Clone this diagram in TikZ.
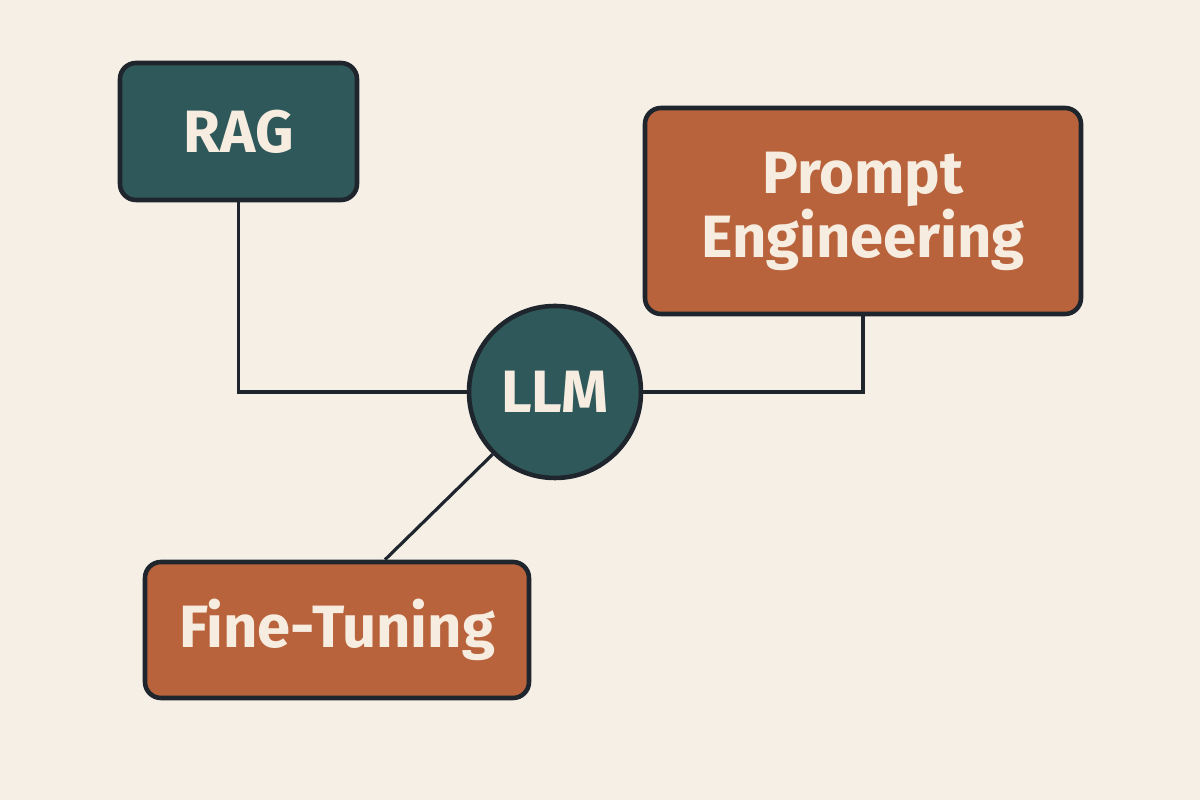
\documentclass[tikz,border=0pt]{standalone}
\usepackage{fontspec}
\setmainfont{Fira Sans}
\usetikzlibrary{positioning}
\definecolor{PaperBg}{HTML}{F5EFE6}
\definecolor{DeepTeal}{HTML}{2F585A}
\definecolor{BurntOrange}{HTML}{B9633C}
\definecolor{InkLine}{HTML}{1E252C}
\definecolor{CreamText}{HTML}{F6ECDF}

\begin{document}
\begin{tikzpicture}[
      box/.style={draw=InkLine,line width=1.3pt,rounded corners=0.16cm,align=center,
                  font=\fontsize{17}{18.2}\selectfont\bfseries,text=CreamText,inner sep=0pt},
      tealbox/.style={box,fill=DeepTeal},
      orangebox/.style={box,fill=BurntOrange},
      hub/.style={circle,draw=InkLine,line width=1.3pt,fill=DeepTeal,minimum size=1.72cm,
                  font=\fontsize{17}{18.2}\selectfont\bfseries,text=CreamText,inner sep=0pt},
      link/.style={InkLine,line width=0.9pt}]
    \fill[PaperBg] (0,0) rectangle (12,8);
    \node[hub] (llm) at (5.55,4.08) {LLM};
    \node[tealbox,minimum width=2.37cm,minimum height=1.37cm] (rag) at (2.385,6.685) {RAG};
    \node[orangebox,minimum width=4.36cm,minimum height=2.06cm] (prompt) at (8.63,5.89) {Prompt\\Engineering};
    \node[orangebox,minimum width=3.84cm,minimum height=1.36cm] (tune) at (3.37,1.7) {Fine-Tuning};
    \draw[link] (rag.south) |- (llm.west);
    \draw[link] (prompt.south) |- (llm.east);
    \draw[link] (tune.north) ++(0.48,0) coordinate (tunetop) -- (llm.225);
  \end{tikzpicture}
\end{document}
